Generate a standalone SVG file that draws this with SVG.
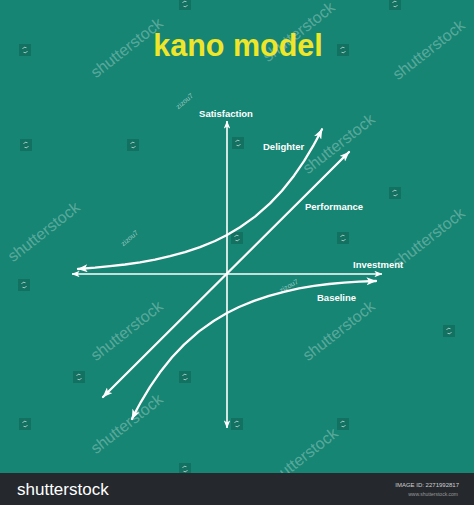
<svg xmlns="http://www.w3.org/2000/svg" xmlns:xlink="http://www.w3.org/1999/xlink" width="474" height="505" viewBox="0 0 474 505">
<style>
.lbl{font-family:"Liberation Sans",Arial,sans-serif;font-weight:bold;font-size:9.5px;fill:#ffffff}
.title{font-family:"Liberation Sans",Arial,sans-serif;font-weight:bold;font-size:30.5px;fill:#efe62a}
.axis{stroke:#ffffff;stroke-width:1.6;fill:none}
.curve{stroke:#ffffff;stroke-width:2.3;fill:none;stroke-linejoin:round;stroke-linecap:round}
.wm{font-family:"Liberation Sans",Arial,sans-serif;font-size:16px;fill:#ffffff;fill-opacity:0.3}
.wz{font-family:"Liberation Sans",Arial,sans-serif;font-size:7px;fill:#ffffff;fill-opacity:0.55}
</style>
<defs>
<marker id="ah" viewBox="0 0 10 8" markerWidth="10" markerHeight="8" refX="9.5" refY="4" orient="auto-start-reverse" markerUnits="userSpaceOnUse">
<path d="M0,0 L10,4 L0,8 L2.5,4 z" fill="#ffffff"/>
</marker>
<marker id="ahs" viewBox="0 0 10 8" markerWidth="8" markerHeight="6.4" refX="9.5" refY="4" orient="auto-start-reverse" markerUnits="userSpaceOnUse">
<path d="M0,0 L10,4 L0,8 L2.5,4 z" fill="#ffffff"/>
</marker>
<g id="ico">
<rect x="-6" y="-6" width="12" height="12" fill="#000000" fill-opacity="0.15"/>
<path d="M-2.5,-1 A2.8,2.8 0 0 1 1.5,-2.3 M2.5,1 A2.8,2.8 0 0 1 -1.5,2.3" stroke="#ffffff" stroke-opacity="0.6" stroke-width="1" fill="none"/>
</g>
</defs>
<rect x="0" y="0" width="474" height="505" fill="#168573"/>

<g id="watermarks">
<text class="wm" transform="translate(130,52) rotate(-38)" text-anchor="middle">shutterstock</text>
<text class="wm" transform="translate(302,36) rotate(-38)" text-anchor="middle" font-size="13">shutterstock</text>
<text class="wm" transform="translate(432,54) rotate(-38)" text-anchor="middle">shutterstock</text>
<text class="wm" transform="translate(47,236) rotate(-38)" text-anchor="middle">shutterstock</text>
<text class="wm" transform="translate(342,148) rotate(-38)" text-anchor="middle">shutterstock</text>
<text class="wm" transform="translate(432,242) rotate(-38)" text-anchor="middle">shutterstock</text>
<text class="wm" transform="translate(130,335) rotate(-38)" text-anchor="middle">shutterstock</text>
<text class="wm" transform="translate(342,335) rotate(-38)" text-anchor="middle">shutterstock</text>
<text class="wm" transform="translate(130,428) rotate(-38)" text-anchor="middle">shutterstock</text>
<text class="wm" transform="translate(305,462) rotate(-38)" text-anchor="middle">shutterstock</text>
<text class="wz" transform="translate(186,103) rotate(-40)" text-anchor="middle">zizou7</text>
<text class="wz" transform="translate(131,240) rotate(-40)" text-anchor="middle">zizou7</text>
<text class="wz" transform="translate(290,288) rotate(-30)" text-anchor="middle">zizou7</text>
<use xlink:href="#ico" x="25" y="50"/>
<use xlink:href="#ico" x="343" y="50"/>
<use xlink:href="#ico" x="185" y="4"/>
<use xlink:href="#ico" x="395" y="4"/>
<use xlink:href="#ico" x="26" y="145"/>
<use xlink:href="#ico" x="133" y="145"/>
<use xlink:href="#ico" x="238" y="143"/>
<use xlink:href="#ico" x="237" y="238"/>
<use xlink:href="#ico" x="343" y="238"/>
<use xlink:href="#ico" x="395" y="193"/>
<use xlink:href="#ico" x="449" y="331"/>
<use xlink:href="#ico" x="79" y="377"/>
<use xlink:href="#ico" x="185" y="377"/>
<use xlink:href="#ico" x="25" y="424"/>
<use xlink:href="#ico" x="237" y="424"/>
<use xlink:href="#ico" x="343" y="424"/>
<use xlink:href="#ico" x="185" y="469"/>
<use xlink:href="#ico" x="24" y="285"/>
</g>

<g id="title"><text class="title" x="238" y="56" text-anchor="middle">kano model</text></g>

<g id="connectors">
<path id="y-axis" class="axis" d="M227,121 L227,428" marker-start="url(#ahs)" marker-end="url(#ahs)"/>
<path id="x-axis" class="axis" d="M72,274 L382,274" marker-start="url(#ahs)" marker-end="url(#ahs)"/>
<path id="performance-line" class="curve" d="M103,397 L349,152" marker-start="url(#ah)" marker-end="url(#ah)"/>
<path id="delighter-curve" class="curve" d="M78,269 L95,267.7 L110,266.2 L125,264.5 L140,262.3 L155,259.6 L170,256.2 L185,252.2 L200,247.1 L215,241 L227,235 L240,227.3 L255,216.6 L270,203.4 L282,190.7 L294,175.7 L304,161.1 L313,146.2 L320,133.2 L322,129.3" marker-start="url(#ah)" marker-end="url(#ah)"/>
<path id="baseline-curve" class="curve" d="M376,281 L359,281.6 L344,282.6 L329,284 L314,285.9 L299,288.4 L284,291.8 L269,295.8 L254,300.9 L239,307 L227,313 L214,320.7 L199,331.4 L184,344.6 L172,357.3 L160,372.3 L150,386.9 L141,401.8 L134,414.8 L132,419" marker-start="url(#ah)" marker-end="url(#ah)"/>
</g>

<g id="satisfaction"><text class="lbl" x="226" y="117" text-anchor="middle">Satisfaction</text></g>
<g id="delighter"><text class="lbl" x="263" y="150">Delighter</text></g>
<g id="performance"><text class="lbl" x="305" y="210">Performance</text></g>
<g id="investment"><text class="lbl" x="353" y="268">Investment</text></g>
<g id="baseline"><text class="lbl" x="317" y="301">Baseline</text></g>

<g id="footer">
<rect x="0" y="473" width="474" height="32" fill="#25282d"/>
<text x="17" y="495" font-family="Liberation Sans, Arial, sans-serif" font-size="17" fill="#ffffff">shutterstock</text>
<text x="459" y="487" text-anchor="end" font-family="Liberation Sans, Arial, sans-serif" font-size="6" fill="#d0d0d0">IMAGE ID: 2271992817</text>
<text x="458" y="496" text-anchor="end" font-family="Liberation Sans, Arial, sans-serif" font-size="5" fill="#9a9a9a">www.shutterstock.com</text>
</g>
</svg>
